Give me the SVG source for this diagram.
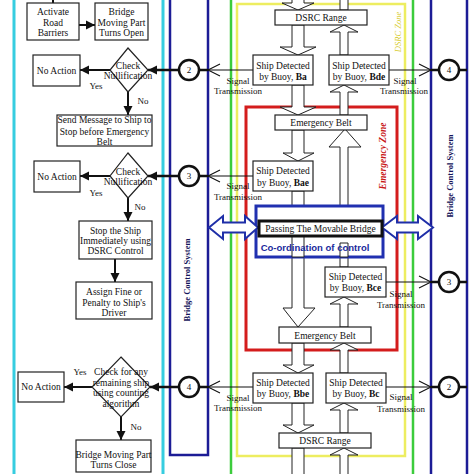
<svg xmlns="http://www.w3.org/2000/svg" width="474" height="474" viewBox="0 0 474 474">
<defs>
<style>
.t{font-family:"Liberation Serif","Times New Roman",serif;font-size:9.5px;fill:#111;text-anchor:middle}
.s{font-family:"Liberation Serif","Times New Roman",serif;font-size:9px;fill:#111;text-anchor:middle}
.box{fill:#fff;stroke:#222;stroke-width:1.2}
.blk{fill:#fff;stroke:#222;stroke-width:1}
.flow{stroke:#111;stroke-width:2;fill:none}
.sig{stroke:#111;stroke-width:1.1;fill:none}
.thick{stroke:#111;stroke-width:2.5;fill:none}
.circ{fill:#fff;stroke:#111;stroke-width:2.5}
.num{font-family:"Liberation Serif","Times New Roman",serif;font-size:9px;fill:#111;text-anchor:middle}
.navy{stroke:#1c1c96;stroke-width:2.5;fill:none}
.dbl{fill:#fff;stroke:#1f2fa8;stroke-width:2}
</style>
<marker id="ah" markerUnits="userSpaceOnUse" markerWidth="10" markerHeight="10" refX="9" refY="5" orient="auto" overflow="visible">
<path d="M0,0.5 L9,5 L0,9.5 z" fill="#111"/>
</marker>
<marker id="chev" markerUnits="userSpaceOnUse" markerWidth="13" markerHeight="13" refX="12" refY="6" orient="auto" overflow="visible">
<path d="M0,0 L12,6 L0,12" fill="none" stroke="#111" stroke-width="1.1"/>
</marker>
</defs>
<rect width="474" height="474" fill="#fff"/>

<g id="lanes">
<line x1="14" y1="0" x2="14" y2="474" stroke="#36cde0" stroke-width="3"/>
<line x1="163" y1="0" x2="163" y2="474" stroke="#36cde0" stroke-width="3"/>
<rect x="170" y="-3" width="38" height="458" class="navy"/>
<line x1="231" y1="0" x2="231" y2="474" stroke="#3ccc3c" stroke-width="2.5"/>
<line x1="413" y1="0" x2="413" y2="474" stroke="#3ccc3c" stroke-width="2.5"/>
<rect x="237" y="4" width="168" height="452" fill="none" stroke="#eded60" stroke-width="2.5"/>
<rect x="246" y="107" width="151" height="243" fill="none" stroke="#d41c1c" stroke-width="3"/>
<line x1="431" y1="0" x2="431" y2="474" class="navy"/>
<line x1="467" y1="0" x2="467" y2="474" class="navy"/>
<text transform="translate(190,280) rotate(-90)" style="font-family:'Liberation Serif',serif;font-size:8.5px;font-weight:bold;fill:#14145a;text-anchor:middle">Bridge Control System</text>
<text transform="translate(453,176) rotate(-90)" style="font-family:'Liberation Serif',serif;font-size:8.5px;font-weight:bold;fill:#14145a;text-anchor:middle">Bridge Control System</text>
<text transform="translate(401,32) rotate(-90)" style="font-family:'Liberation Serif',serif;font-size:8.5px;font-style:italic;fill:#d8cc30;text-anchor:middle">DSRC Zone</text>
<text transform="translate(386,156) rotate(-90)" style="font-family:'Liberation Serif',serif;font-size:9.5px;font-weight:bold;font-style:italic;fill:#c81818;text-anchor:middle">Emergency Zone</text>
</g>

<g id="connectors">
<!-- left flowchart -->
<line x1="53" y1="0" x2="53" y2="3" class="flow"/>
<line x1="79" y1="25" x2="95" y2="25" class="flow" marker-end="url(#ah)"/>
<line x1="110" y1="70" x2="80" y2="70" class="flow" marker-end="url(#ah)"/>
<line x1="128" y1="92" x2="128" y2="115" class="flow" marker-end="url(#ah)"/>
<line x1="110" y1="176" x2="80" y2="176" class="flow" marker-end="url(#ah)"/>
<line x1="128" y1="198" x2="128" y2="221" class="flow" marker-end="url(#ah)"/>
<line x1="115" y1="259" x2="115" y2="282" class="flow" marker-end="url(#ah)"/>
<line x1="92" y1="387" x2="64" y2="387" class="flow" marker-end="url(#ah)"/>
<line x1="121" y1="417" x2="121" y2="440" class="flow" marker-end="url(#ah)"/>
<!-- signal lines into left bridge control -->
<line x1="208" y1="70" x2="148" y2="70" class="thick" marker-end="url(#ah)"/>
<line x1="253" y1="70" x2="208" y2="70" class="sig" marker-end="url(#chev)"/>
<line x1="208" y1="176" x2="148" y2="176" class="thick" marker-end="url(#ah)"/>
<line x1="253" y1="176" x2="208" y2="176" class="sig" marker-end="url(#chev)"/>
<line x1="208" y1="387" x2="150" y2="387" class="thick" marker-end="url(#ah)"/>
<line x1="253" y1="387" x2="208" y2="387" class="sig" marker-end="url(#chev)"/>
<!-- signal lines into right bridge control -->
<line x1="389" y1="70" x2="431" y2="70" class="sig" marker-end="url(#chev)"/>
<line x1="431" y1="70" x2="467" y2="70" class="thick"/>
<line x1="386" y1="282" x2="431" y2="282" class="sig" marker-end="url(#chev)"/>
<line x1="431" y1="282" x2="467" y2="282" class="thick"/>
<line x1="386" y1="387" x2="431" y2="387" class="sig" marker-end="url(#chev)"/>
<line x1="431" y1="387" x2="467" y2="387" class="thick"/>
<!-- down block arrows -->
<polygon class="blk" points="292,-2 304,-2 304,3 314,3 298,10 282,3 292,3"/>
<polygon class="blk" points="292,25 304,25 304,47 316,47 298,55 280,47 292,47"/>
<polygon class="blk" points="292,85 304,85 304,107 316,107 298,115 280,107 292,107"/>
<polygon class="blk" points="292,130 304,130 304,153 314,153 298,161 283,153 292,153"/>
<polygon class="blk" points="292,191 304,191 304,213 315,213 298,221 283,213 292,213"/>
<polygon class="blk" points="292,236 304,236 304,308 315,308 298,327 283,308 292,308"/>
<polygon class="blk" points="292,343 304,343 304,365 314,365 298,373 283,365 292,365"/>
<polygon class="blk" points="292,403 304,403 304,425 314,425 298,433 283,425 292,425"/>
<polygon class="blk" points="292,448 304,448 304,476 292,476"/>
<!-- up block arrows -->
<polygon class="blk" points="340,10 348,10 348,-2 340,-2"/>
<polygon class="blk" points="340,55 348,55 348,32 358,32 344,25 330,32 340,32"/>
<polygon class="blk" points="340,115 348,115 348,92 358,92 344,85 330,92 340,92"/>
<polygon class="blk" points="340,221 348,221 348,147 361,147 345,129 329,147 340,147"/>
<polygon class="blk" points="340,267 348,267 348,243 358,243 344,236 330,243 340,243"/>
<polygon class="blk" points="340,327 348,327 348,304 358,304 344,297 330,304 340,304"/>
<polygon class="blk" points="340,373 348,373 348,350 358,350 344,343 330,350 340,350"/>
<polygon class="blk" points="340,433 348,433 348,410 358,410 344,403 330,410 340,410"/>
<polygon class="blk" points="340,476 348,476 348,455 358,455 344,448 330,455 340,455"/>
</g>

<g id="coordination">
<rect x="256" y="206" width="127" height="51" fill="#fff" stroke="#2030b0" stroke-width="3"/>
<polygon class="blk" points="292,236 304,236 304,257 292,257" style="stroke-width:1"/>
<polygon class="blk" points="340,243 348,243 348,257 340,257"/>
<text x="315" y="251" style="font-family:'Liberation Sans',Arial,sans-serif;font-size:9.5px;font-weight:bold;fill:#1a2a9c;text-anchor:middle">Co-ordination of control</text>
</g>

<g id="double-arrows">
<polygon class="dbl" points="209,227.5 223,216 223,222.5 245,222.5 245,216 258,227.5 245,239 245,232.5 223,232.5 223,239"/>
<polygon class="dbl" points="382,227.5 397,216 397,222.5 418,222.5 418,216 433,227.5 418,239 418,232.5 397,232.5 397,239"/>
</g>

<g id="passing">
<rect x="259" y="221" width="123" height="15" fill="#fff" stroke="#111" stroke-width="3"/>
<text class="t" x="320.5" y="232">Passing The Movable Bridge</text>
</g>

<g id="activate">
<rect class="box" x="27" y="3" width="52" height="37"/>
<text class="t" x="53" y="15">Activate</text><text class="t" x="53" y="25.5">Road</text><text class="t" x="53" y="36">Barriers</text>
</g>
<g id="bridge-open">
<rect class="box" x="95" y="3" width="53" height="37"/>
<text class="t" x="121.5" y="15">Bridge</text><text class="t" x="121.5" y="26">Moving Part</text><text class="t" x="121.5" y="36">Turns Open</text>
</g>
<g id="noaction1">
<rect class="box" x="33" y="55" width="47" height="31"/>
<text class="t" x="56.5" y="73.5">No Action</text>
</g>
<g id="check1">
<polygon class="box" points="128,48 148,70 128,92 110,70"/>
<text class="t" x="128" y="69">Check</text><text class="t" x="128" y="79">Nullification</text>
<text class="s" x="96" y="89">Yes</text><text class="s" x="143" y="104">No</text>
</g>
<g id="send-message">
<rect class="box" x="57" y="115" width="95" height="31"/>
<text class="t" x="104.5" y="123">Send Message to Ship to</text><text class="t" x="104.5" y="135">Stop before Emergency</text><text class="t" x="104.5" y="145">Belt</text>
</g>
<g id="noaction2">
<rect class="box" x="34" y="161" width="46" height="31"/>
<text class="t" x="57" y="179.5">No Action</text>
</g>
<g id="check2">
<polygon class="box" points="128,153 148,176 128,198 110,176"/>
<text class="t" x="128" y="175">Check</text><text class="t" x="128" y="185">Nullification</text>
<text class="s" x="96" y="196">Yes</text><text class="s" x="140" y="210">No</text>
</g>
<g id="stop-ship">
<rect class="box" x="79" y="221" width="73" height="38"/>
<text class="t" x="115.5" y="234">Stop the Ship</text><text class="t" x="115.5" y="244">Immediately using</text><text class="t" x="115.5" y="254">DSRC Control</text>
</g>
<g id="assign-fine">
<rect class="box" x="76" y="282" width="76" height="37"/>
<text class="t" x="114" y="295">Assign Fine or</text><text class="t" x="114" y="306">Penalty to Ship's</text><text class="t" x="114" y="316">Driver</text>
</g>
<g id="noaction3">
<rect class="box" x="18" y="372" width="46" height="30"/>
<text class="t" x="41" y="390">No Action</text>
</g>
<g id="check3">
<polygon class="box" points="121,357 150,387 121,417 92,387"/>
<text class="t" x="121" y="375">Check for any</text><text class="t" x="121" y="386">remaining ship</text><text class="t" x="121" y="396">using counting</text><text class="t" x="121" y="407">algorithm</text>
<text class="s" x="80" y="375">Yes</text><text class="s" x="136" y="430">No</text>
</g>
<g id="bridge-close">
<rect class="box" x="76" y="440" width="75" height="32"/>
<text class="t" x="113.5" y="458">Bridge Moving Part</text><text class="t" x="113.5" y="468">Turns Close</text>
</g>

<g id="dsrc-top">
<rect class="box" x="275" y="10" width="92" height="15"/>
<text class="t" x="321" y="21">DSRC Range</text>
</g>
<g id="buoy-ba">
<rect class="box" x="253" y="55" width="60" height="30"/>
<text class="t" x="283" y="69">Ship Detected</text><text class="t" x="283" y="80">by Buoy, <tspan font-weight="bold">Ba</tspan></text>
</g>
<g id="buoy-bde">
<rect class="box" x="329" y="55" width="60" height="30"/>
<text class="t" x="359" y="69">Ship Detected</text><text class="t" x="359" y="80">by Buoy, <tspan font-weight="bold">Bde</tspan></text>
</g>
<g id="emergency-top">
<rect class="box" x="275" y="115" width="92" height="15"/>
<text class="t" x="321" y="126">Emergency Belt</text>
</g>
<g id="buoy-bae">
<rect class="box" x="253" y="161" width="60" height="30"/>
<text class="t" x="283" y="174">Ship Detected</text><text class="t" x="283" y="186">by Buoy, <tspan font-weight="bold">Bae</tspan></text>
</g>
<g id="buoy-bce">
<rect class="box" x="325" y="267" width="61" height="30"/>
<text class="t" x="355.5" y="280">Ship Detected</text><text class="t" x="355.5" y="291">by Buoy, <tspan font-weight="bold">Bce</tspan></text>
</g>
<g id="emergency-bottom">
<rect class="box" x="279" y="327" width="92" height="16"/>
<text class="t" x="325" y="338.5">Emergency Belt</text>
</g>
<g id="buoy-bbe">
<rect class="box" x="253" y="373" width="60" height="30"/>
<text class="t" x="283" y="386">Ship Detected</text><text class="t" x="283" y="397">by Buoy, <tspan font-weight="bold">Bbe</tspan></text>
</g>
<g id="buoy-bc">
<rect class="box" x="326" y="373" width="60" height="30"/>
<text class="t" x="356" y="386">Ship Detected</text><text class="t" x="356" y="397">by Buoy, <tspan font-weight="bold">Bc</tspan></text>
</g>
<g id="dsrc-bottom">
<rect class="box" x="279" y="433" width="92" height="15"/>
<text class="t" x="325" y="444">DSRC Range</text>
</g>

<g id="signal-labels">
<text class="s" x="238" y="84">Signal</text><text class="s" x="238" y="94">Transmission</text>
<text class="s" x="405" y="84">Signal</text><text class="s" x="404" y="94">Transmission</text>
<text class="s" x="238" y="189">Signal</text><text class="s" x="238" y="200">Transmission</text>
<text class="s" x="401" y="297">Signal</text><text class="s" x="401" y="308">Transmission</text>
<text class="s" x="238" y="401">Signal</text><text class="s" x="238" y="411">Transmission</text>
<text class="s" x="401" y="400">Signal</text><text class="s" x="401" y="412">Transmission</text>
</g>

<g id="node-l2"><circle class="circ" cx="189" cy="70" r="10"/><text class="num" x="189" y="73">2</text></g>
<g id="node-l3"><circle class="circ" cx="189" cy="176" r="10"/><text class="num" x="189" y="179">3</text></g>
<g id="node-l4"><circle class="circ" cx="189" cy="387" r="10"/><text class="num" x="189" y="390">4</text></g>
<g id="node-r4"><circle class="circ" cx="449" cy="70" r="10"/><text class="num" x="449" y="73">4</text></g>
<g id="node-r3"><circle class="circ" cx="449" cy="282" r="10"/><text class="num" x="449" y="285">3</text></g>
<g id="node-r2"><circle class="circ" cx="449" cy="387" r="10"/><text class="num" x="449" y="390">2</text></g>
</svg>
